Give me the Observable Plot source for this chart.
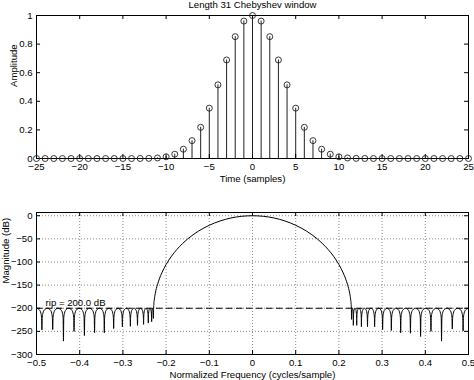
<!DOCTYPE html>
<html><head><meta charset="utf-8">
<script src="https://cdn.jsdelivr.net/npm/d3@7"></script>
<script src="https://cdn.jsdelivr.net/npm/@observablehq/plot@0.6"></script>
<style>
html,body{margin:0;padding:0;background:#fff;}
#chart{width:474px;height:380px;position:relative;overflow:hidden;background:#fff;}
#chart svg{display:block;}
</style></head><body><div id="chart"></div>
<script>
// ---- Top panel: window samples ----
const titleText = "Length 31 Chebyshev window";
const timeLabel = "Time (samples)";
const ampLabel = "Amplitude";
const timeIdx = [-25,-24,-23,-22,-21,-20,-19,-18,-17,-16,-15,-14,-13,-12,-11,-10,-9,-8,-7,-6,-5,-4,-3,-2,-1,0,1,2,3,4,5,6,7,8,9,10,11,12,13,14,15,16,17,18,19,20,21,22,23,24,25];
const amplitude = [0,0,0,0,0,0,0,0,0,0,
  0,0,0.0002,0.001,0.004,0.012,0.030,0.065,0.125,0.218,0.352,0.515,0.689,0.852,0.961,
  1,
  0.961,0.852,0.689,0.515,0.352,0.218,0.125,0.065,0.030,0.012,0.004,0.001,0.0002,0,0,
  0,0,0,0,0,0,0,0,0,0];
const timeTicks = [-25,-20,-15,-10,-5,0,5,10,15,20,25];
const ampTicks = [0,0.2,0.4,0.6,0.8,1];

// ---- Bottom panel: magnitude response ----
const freqLabel = "Normalized Frequency (cycles/sample)";
const magLabel = "Magnitude (dB)";
const mainLobeFreq = [0,0.025,0.05,0.075,0.1,0.125,0.15,0.175,0.1875,0.2,0.21,0.215,0.22,0.225,0.2275,0.2285,0.2289];
const mainLobeDb   = [0,-1.2,-4.9,-11.3,-20.6,-33.2,-50.2,-72.9,-87.5,-105.5,-123.7,-135.0,-148.9,-167.9,-183.1,-192.5,-200];
const nullFreq    = [0.2294,0.2334,0.2412,0.2521,0.2662,0.2827,0.3012,0.3214,0.3430,0.3656,0.3891,0.4131,0.4376,0.4625,0.4875];
const nullDbRight = [-224,-237,-237,-240,-240,-240,-246,-248,-253,-254,-261,-250,-271,-245,-249];
const nullDbLeft  = [-222,-229,-232,-235,-237,-239,-240,-244,-253,-253,-259,-250,-271,-246,-247];
const lobeFrac = [0.03,0.1,0.22,0.5,0.78,0.9,0.97];
const lobeDb   = [-20.5,-10.2,-3.9,0,-3.9,-10.2,-20.5];
const rippleDb = -200;
const ripText = "rip = 200.0 dB";
const ripLabelFreq = -0.479;
const ripLabelDb = -195;
const freqTicks = [-0.5,-0.4,-0.3,-0.2,-0.1,0,0.1,0.2,0.3,0.4,0.5];
const dbTicks = [0,-50,-100,-150,-200,-250,-300];

// ---- build tables ----
const fmt = d => (d < 0 ? "\u2212" : "") + String(Math.abs(d));
const stems = timeIdx.map((n, i) => ({n, a: amplitude[i]}));

function sideLobes(depths, sign) {
  const out = [];
  for (let k = 0; k < nullFreq.length; k++) {
    const a = nullFreq[k];
    const b = k + 1 < nullFreq.length ? nullFreq[k + 1] : 1 - nullFreq[k];
    out.push({f: sign * a, db: depths[k]});
    lobeFrac.forEach((p, i) => {
      const f = a + p * (b - a);
      if (f <= 0.5 + 1e-9) out.push({f: sign * Math.min(f, 0.5), db: rippleDb + lobeDb[i]});
    });
  }
  return out;
}
const resp = [];
mainLobeFreq.forEach((f, i) => { resp.push({f, db: mainLobeDb[i]}); if (f > 0) resp.push({f: -f, db: mainLobeDb[i]}); });
resp.push(...sideLobes(nullDbRight, 1), ...sideLobes(nullDbLeft, -1));
resp.sort((p, q) => p.f - q.f);

const font = {fontFamily: "'Liberation Sans', Arial, Helvetica, sans-serif", fontSize: "9.6px", color: "black", background: "white", overflow: "visible"};
const W = 474, ML = 36, MR = 6;
const PW = W - ML - MR;
const TL = 4;

function inwardTicks(xt, yt, ph) {
  return [
    Plot.tickX(xt, {x: d => d, insetBottom: ph - TL, stroke: "black"}),
    Plot.tickX(xt, {x: d => d, insetTop: ph - TL, stroke: "black"}),
    Plot.tickY(yt, {y: d => d, insetRight: PW - TL, stroke: "black"}),
    Plot.tickY(yt, {y: d => d, insetLeft: PW - TL, stroke: "black"})
  ];
}

// Top plot
const H1 = 190, MT1 = 15, MB1 = 32;
const topPlot = Plot.plot({
  width: W, height: H1, marginLeft: ML, marginRight: MR, marginTop: MT1, marginBottom: MB1,
  style: font,
  x: {domain: [-25, 25], ticks: timeTicks, tickFormat: fmt, tickSize: 0, tickPadding: 5, label: null},
  y: {domain: [0, 1], ticks: ampTicks, tickFormat: fmt, tickSize: 0, tickPadding: 4, label: null},
  marks: [
    Plot.ruleX(stems, {x: "n", y1: 0, y2: "a", stroke: "#222", strokeWidth: 1}),
    Plot.frame({stroke: "black"}),
    ...inwardTicks(timeTicks, ampTicks, H1 - MT1 - MB1),
    Plot.dot(stems, {x: "n", y: "a", r: 3, stroke: "#222", fill: "none", strokeWidth: 0.9}),
    Plot.text([titleText], {text: d => d, frameAnchor: "top", dy: -7.5, lineAnchor: "bottom"}),
    Plot.text([timeLabel], {text: d => d, frameAnchor: "bottom", dy: 23, lineAnchor: "bottom"}),
    Plot.text([ampLabel], {text: d => d, frameAnchor: "left", rotate: -90, dx: -20, lineAnchor: "bottom"})
  ]
});

// Bottom plot
const H2 = 190, MT2 = 22, MB2 = 26;
const bottomPlot = Plot.plot({
  width: W, height: H2, marginLeft: ML, marginRight: MR, marginTop: MT2, marginBottom: MB2,
  style: font,
  x: {domain: [-0.5, 0.5], ticks: freqTicks, tickFormat: fmt, tickSize: 0, tickPadding: 5, label: null},
  y: {domain: [-300, 7], ticks: dbTicks, tickFormat: fmt, tickSize: 0, tickPadding: 4, label: null},
  marks: [
    Plot.ruleX(freqTicks, {x: d => d, stroke: "#8a8a8a", strokeDasharray: "1,2"}),
    Plot.ruleY(dbTicks, {y: d => d, stroke: "#8a8a8a", strokeDasharray: "1,2"}),
    Plot.ruleY([rippleDb], {y: d => d, stroke: "black", strokeDasharray: "6.5,3.5"}),
    Plot.line(resp, {x: "f", y: "db", curve: "monotone-x", stroke: "black", strokeWidth: 1}),
    Plot.frame({stroke: "black"}),
    ...inwardTicks(freqTicks, dbTicks, H2 - MT2 - MB2),
    Plot.text([{f: ripLabelFreq, db: ripLabelDb}], {x: "f", y: "db", text: () => ripText, textAnchor: "start", lineAnchor: "bottom"}),
    Plot.text([freqLabel], {text: d => d, frameAnchor: "bottom", dy: 23, lineAnchor: "bottom"}),
    Plot.text([magLabel], {text: d => d, frameAnchor: "left", rotate: -90, dx: -27.5, lineAnchor: "bottom"})
  ]
});

const chart = document.getElementById("chart");
chart.appendChild(topPlot);
chart.appendChild(bottomPlot);
</script></body></html>
